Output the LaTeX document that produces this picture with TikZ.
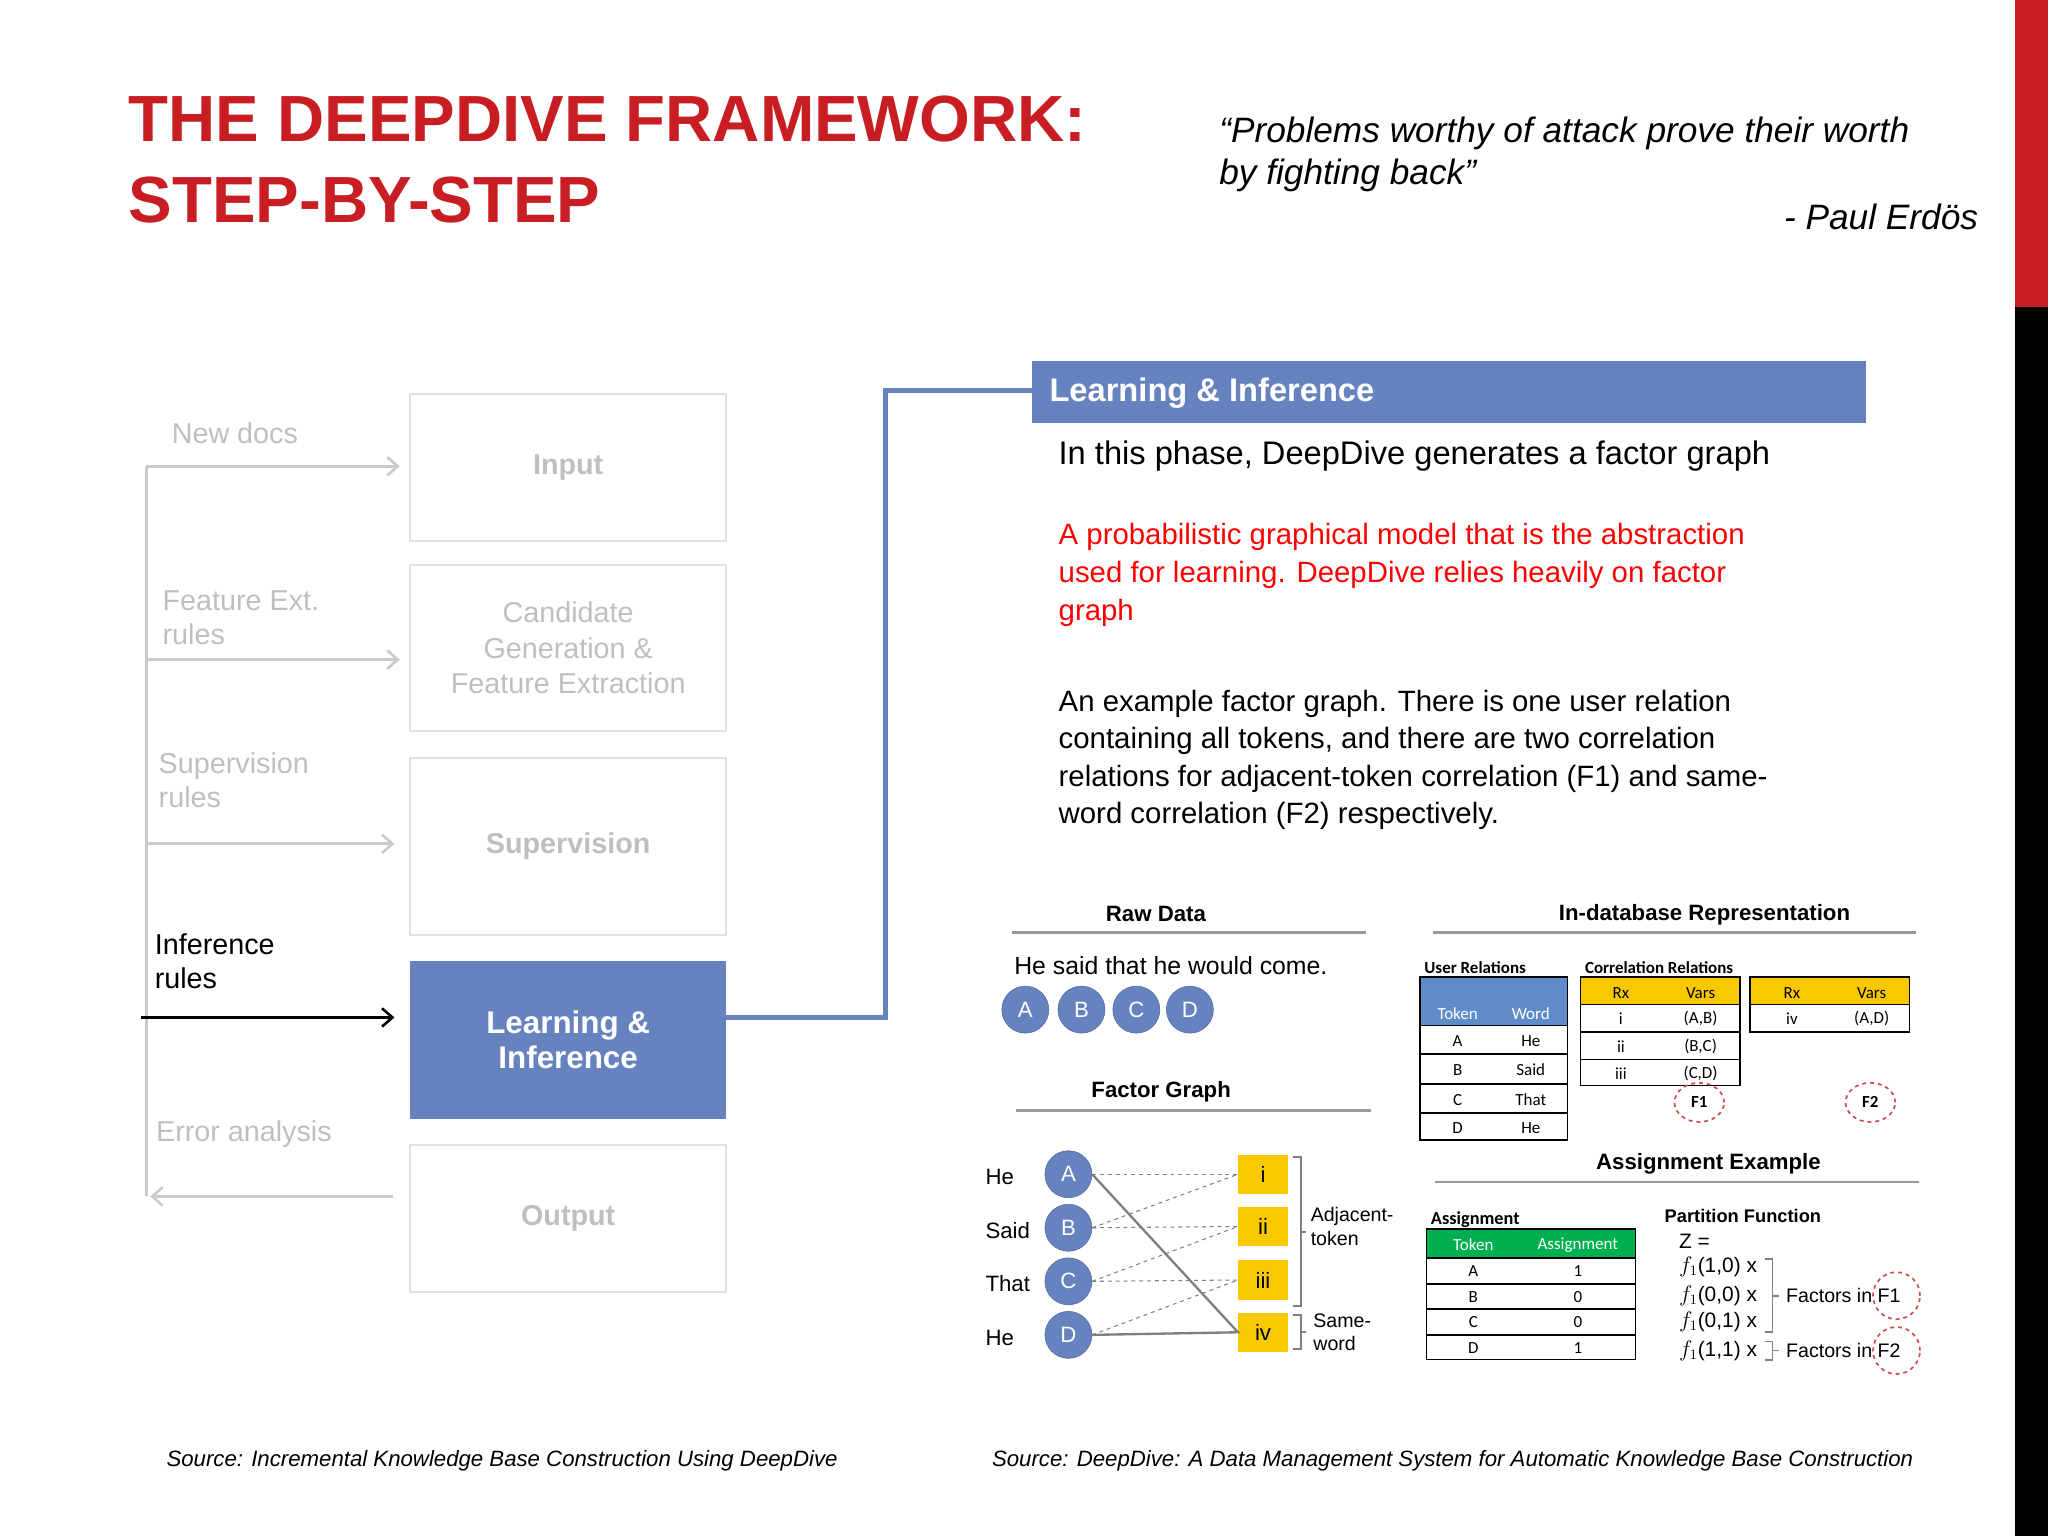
\documentclass[tikz,border=0pt]{standalone}
\usepackage{fontspec}
\setmainfont{Liberation Sans}
\newfontfamily\carl{Carlito}
\usetikzlibrary{arrows.meta,shapes.geometric}
\definecolor{tred}{RGB}{200,30,35}
\definecolor{dblue}{RGB}{102,131,191}
\definecolor{fg}{RGB}{225,225,225}
\definecolor{ylw}{RGB}{250,200,0}
\definecolor{grn}{RGB}{0,176,80}
\definecolor{ublue}{RGB}{95,140,200}
\tikzset{
 fs/.style={font=\fontsize{#1}{#1}\selectfont},
 pbox/.style={draw=fg,line width=1.5},
 faint/.style={text=fg!85!black,fs=22,anchor=west,align=left},
 garr/.style={draw=fg!90!black,line width=2,-{Straight Barb[length=8,width=14]}},
 hd/.style={font=\bfseries\fontsize{17}{17}\selectfont},
 hline/.style={draw=gray!80,line width=2},
 circ/.style={circle,fill=dblue,draw=dblue!80!black,minimum size=36,inner sep=0,text=white,fs=17},
 yb/.style={fill=ylw,minimum width=38,minimum height=30,inner sep=0,fs=17},
 tb/.style={draw=black,line width=1.2},
 tt/.style={font=\carl\fontsize{13}{13}\selectfont},
 rd/.style={draw=tred!80,dashed,line width=1.3,ellipse,minimum width=38,minimum height=30,inner sep=0}
}
\begin{document}
\begin{tikzpicture}[x=1pt,y=-1pt]
\useasboundingbox (0,0) rectangle (1568,1176);
\fill[tred] (1543,0) rectangle (1568,235);
\fill[black] (1543,235) rectangle (1568,1176);
% title
\node[anchor=base west,text=tred,font=\bfseries\fontsize{50}{50}\selectfont] (t1) at (95,108) {THE DEEPDIVE FRAMEWORK:};
\node[anchor=base west,text=tred,font=\bfseries\fontsize{50}{50}\selectfont] (t2) at (95,170) {STEP-BY-STEP};
\node[anchor=base west,font=\itshape\fontsize{27}{27}\selectfont] (q1) at (930,109) {“Problems worthy of attack prove their worth};
\node[anchor=base west,font=\itshape\fontsize{27}{27}\selectfont] (q2) at (930,141) {by fighting back”};
\node[anchor=base east,font=\itshape\fontsize{27}{27}\selectfont] (q3) at (1518,176) {- Paul Erdös};
% left pipeline
\node[pbox,minimum width=242,minimum height=112,text=fg!85!black,font=\bfseries\fontsize{22}{26}\selectfont] (in) at (435,358) {Input};
\node[pbox,minimum width=242,minimum height=127,text=fg!85!black,align=center,font=\fontsize{22}{27}\selectfont] (cg) at (435,496) {Candidate\\Generation \&\\Feature Extraction};
\node[pbox,minimum width=242,minimum height=136,text=fg!85!black,font=\bfseries\fontsize{22}{26}\selectfont] (sp) at (435,648) {Supervision};
\node[fill=dblue,minimum width=242,minimum height=121,text=white,align=center,font=\bfseries\fontsize{24}{27}\selectfont] (li) at (435,796) {Learning \&\\Inference};
\node[pbox,minimum width=242,minimum height=113,text=fg!85!black,font=\bfseries\fontsize{22}{26}\selectfont] (out) at (435,933) {Output};
\coordinate (v1) at (112,357); \coordinate (v2) at (112,505); \coordinate (v3) at (112,646); \coordinate (v5) at (112,916);
\draw[draw=fg!90!black,line width=2] (v1) -- (v5);
\draw[garr] (v1) -- (306,357);
\draw[garr] (v2) -- (306,505);
\draw[garr] (v3) -- (302,646);
\draw[line width=2,-{Straight Barb[length=8,width=14]}] (108,779) -- (302,779);
\coordinate (e1) at (301,916);
\draw[garr] (e1) -- (115,916);
\node[faint] (l1) at (128,332) {New docs};
\node[faint,font=\fontsize{22}{26}\selectfont] (l2) at (121,473) {Feature Ext.\\rules};
\node[faint,font=\fontsize{22}{26}\selectfont] (l3) at (118,597) {Supervision\\rules};
\node[anchor=west,align=left,font=\fontsize{22}{26}\selectfont] (l4) at (115,736) {Inference\\rules};
\node[faint] (l5) at (116,868) {Error analysis};
% connector
\draw[dblue,line width=4] (li.east |- 0,779) -- (678,779) -- (678,299) -- (790,299);
\fill[dblue] (790,276) rectangle (1429,324);
\node[anchor=west,text=white,font=\bfseries\fontsize{25}{25}\selectfont] (hh) at (800,301) {Learning \& Inference};
\node[anchor=base west,fs=25] (p1) at (807,356) {In this phase, DeepDive generates a factor graph};
\node[anchor=north west,text=red,align=left,font=\fontsize{22.5}{29}\selectfont] (p2) at (807,397) {A probabilistic graphical model that is the abstraction\\used for learning. DeepDive relies heavily on factor\\graph};
\node[anchor=north west,align=left,font=\fontsize{22.5}{28.5}\selectfont] (p3) at (807,525) {An example factor graph. There is one user relation\\containing all tokens, and there are two correlation\\relations for adjacent-token correlation (F1) and same-\\word correlation (F2) respectively.};
% raw data
\node[hd] (rdh) at (885,700) {Raw Data};
\draw[hline] (775,714) -- (1046,714);
\node[anchor=west,fs=19] (rs) at (773,739) {He said that he would come.};
\foreach \l/\x in {A/785,B/828,C/870,D/911} \node[circ] (r\l) at (\x,773) {\l};
% factor graph
\node[hd] (fgh) at (889,836) {Factor Graph};
\draw[hline] (778,850) -- (1050,850);
\foreach \l/\w/\y in {A/He/899,B/Said/940,C/That/981,D/He/1022}{
 \node[circ] (f\l) at (818,\y) {\l};
 \node[anchor=west,fs=17] (w\l) at (751,\y+2) {\w};}
\foreach \l/\y in {i/899,ii/939,iii/980,iv/1020} \node[yb] (y\l) at (967,\y) {\l};
\foreach \a/\b in {A/i,B/i,B/ii,C/ii,C/iii,D/iii} \draw[gray,dashed,line width=0.8] (f\a.east) -- (y\b.west);
\draw[gray,line width=1.8] (fA.east) -- (yiv.west) -- (fD.east);
\draw[gray,line width=1.5] (990,886) -- (996,886) -- (996,1000) -- (990,1000) (996,943) -- (1000,943);
\draw[gray,line width=1.5] (990,1007) -- (996,1007) -- (996,1033) -- (990,1033) (996,1020) -- (1000,1020);
\node[anchor=west,align=left,font=\fontsize{15}{18}\selectfont] (adj) at (1000,939) {Adjacent-\\token};
\node[anchor=west,align=left,font=\fontsize{15}{18}\selectfont] (sw) at (1002,1020) {Same-\\word};
% in-database
\node[hd] (idh) at (1305,700) {In-database Representation};
\draw[hline] (1097,714) -- (1467,714);
\node[anchor=west,font=\carl\bfseries\fontsize{13}{13}\selectfont] (ur) at (1087,741) {User Relations};
\fill[ublue] (1087,748) rectangle (1200,785);
\draw[tb] (1087,748) rectangle (1200,873);
\foreach \y in {785,807,830,852} \draw[tb] (1087,\y) -- (1200,\y);
\node[tt,text=white] (uh1) at (1116,776) {Token};
\node[tt,text=white] (uh2) at (1172,776) {Word};
\foreach \a/\b/\y in {A/He/797,B/Said/819,C/That/842,D/He/864}{
 \node[tt] (ua\a) at (1116,\y) {\a}; \node[tt] (ub\a) at (1172,\y) {\b};}
\node[anchor=west,font=\carl\bfseries\fontsize{13}{13}\selectfont] (cr) at (1210,741) {Correlation Relations};
\fill[ylw] (1210,748) rectangle (1332,769);
\draw[tb] (1210,748) rectangle (1332,831);
\foreach \y in {769,790,811} \draw[tb] (1210,\y) -- (1332,\y);
\node[tt] (c1) at (1241,760) {Rx}; \node[tt] (c2) at (1302,760) {Vars};
\foreach \a/\b/\y in {i/{(A,B)}/780,ii/{(B,C)}/801,iii/{(C,D)}/822}{
 \node[tt] (ca\a) at (1241,\y) {\a}; \node[tt] (cb\a) at (1302,\y) {\b};}
\fill[ylw] (1340,748) rectangle (1462,769);
\draw[tb] (1340,748) rectangle (1462,790);
\draw[tb] (1340,769) -- (1462,769);
\node[tt] (d1) at (1372,760) {Rx}; \node[tt] (d2) at (1433,760) {Vars};
\node[tt] (d3) at (1372,780) {iv}; \node[tt] (d4) at (1433,780) {(A,D)};
\node[rd,font=\carl\bfseries\fontsize{13}{13}\selectfont] (F1) at (1301,844) {F1};
\node[rd,font=\carl\bfseries\fontsize{13}{13}\selectfont] (F2) at (1432,844) {F2};
% assignment
\node[hd] (aeh) at (1308,891) {Assignment Example};
\draw[hline] (1099,905) -- (1469,905);
\node[anchor=west,font=\carl\bfseries\fontsize{14}{14}\selectfont] (asl) at (1092,934) {Assignment};
\fill[grn] (1092,941) rectangle (1252,963);
\draw[tb] (1092,941) rectangle (1252,1041);
\foreach \y in {963,983,1002,1022} \draw[tb] (1092,\y) -- (1252,\y);
\node[tt,text=white] (ah1) at (1128,953) {Token};
\node[tt,text=white] (ah2) at (1208,953) {Assignment};
\foreach \a/\b/\y in {A/1/973,B/0/993,C/0/1012,D/1/1032}{
 \node[tt] (aa\a) at (1128,\y) {\a}; \node[tt] (ab\a) at (1208,\y) {\b};}
\node[anchor=west,font=\bfseries\fontsize{14}{14}\selectfont] (pf) at (1271,931) {Partition Function};
\node[anchor=west,fs=16] (z) at (1282,950) {Z =};
\foreach \v/\y in {{1,0}/970,{0,0}/992,{0,1}/1012,{1,1}/1034}
 \node[anchor=west,fs=16] at (1282,\y) {$f_1$(\v) x};
\draw[gray,line width=1.3] (1351,964) -- (1357,964) -- (1357,1020) -- (1351,1020) (1357,992) -- (1362,992);
\draw[gray,line width=1.3] (1351,1027) -- (1357,1027) -- (1357,1041) -- (1351,1041) (1357,1034) -- (1362,1034);
\node[anchor=west,fs=15] (fa1) at (1364,992) {Factors in F1};
\node[anchor=west,fs=15] (fa2) at (1364,1034) {Factors in F2};
\node[rd,minimum width=36,minimum height=36] (e1r) at (1452,992) {};
\node[rd,minimum width=36,minimum height=36] (e2r) at (1452,1034) {};
% sources
\node[anchor=base west,font=\itshape\fontsize{17}{17}\selectfont] (s1) at (124,1123) {Source: Incremental Knowledge Base Construction Using DeepDive};
\node[anchor=base west,font=\itshape\fontsize{17}{17}\selectfont] (s2) at (756,1123) {Source: DeepDive: A Data Management System for Automatic Knowledge Base Construction};
\end{tikzpicture}
\end{document}
